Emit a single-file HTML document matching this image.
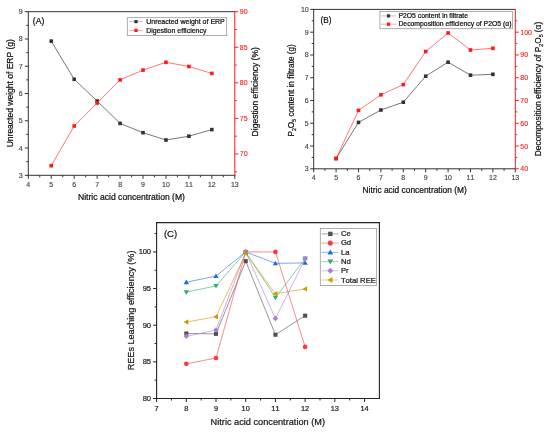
<!DOCTYPE html>
<html><head><meta charset="utf-8"><style>
html,body{margin:0;padding:0;background:#fff;}
body{width:550px;height:432px;overflow:hidden;}
svg{display:block;font-family:"Liberation Sans", sans-serif;will-change:transform;font-variant-ligatures:none;font-kerning:none;}
.pc text{stroke:#222;stroke-width:0.22px;}
.t{stroke:#111;stroke-width:0.22px;}
.tl{stroke:#444;stroke-width:0.15px;}
.tr{stroke:#ff1a1a;stroke-width:0.12px;}
</style></head><body>
<svg width="550" height="432" viewBox="0 0 550 432">
<rect width="550" height="432" fill="#fff"/>
<line x1="24.80" y1="175.30" x2="28.30" y2="175.30" stroke="#333" stroke-width="1" />
<text x="22.70" y="177.80" font-size="7" fill="#444" text-anchor="end" class="tl">3</text>
<line x1="24.80" y1="148.03" x2="28.30" y2="148.03" stroke="#333" stroke-width="1" />
<text x="22.70" y="150.53" font-size="7" fill="#444" text-anchor="end" class="tl">4</text>
<line x1="24.80" y1="120.77" x2="28.30" y2="120.77" stroke="#333" stroke-width="1" />
<text x="22.70" y="123.27" font-size="7" fill="#444" text-anchor="end" class="tl">5</text>
<line x1="24.80" y1="93.50" x2="28.30" y2="93.50" stroke="#333" stroke-width="1" />
<text x="22.70" y="96.00" font-size="7" fill="#444" text-anchor="end" class="tl">6</text>
<line x1="24.80" y1="66.23" x2="28.30" y2="66.23" stroke="#333" stroke-width="1" />
<text x="22.70" y="68.73" font-size="7" fill="#444" text-anchor="end" class="tl">7</text>
<line x1="24.80" y1="38.97" x2="28.30" y2="38.97" stroke="#333" stroke-width="1" />
<text x="22.70" y="41.47" font-size="7" fill="#444" text-anchor="end" class="tl">8</text>
<line x1="24.80" y1="11.70" x2="28.30" y2="11.70" stroke="#333" stroke-width="1" />
<text x="22.70" y="14.20" font-size="7" fill="#444" text-anchor="end" class="tl">9</text>
<line x1="26.30" y1="161.67" x2="28.30" y2="161.67" stroke="#333" stroke-width="1" />
<line x1="26.30" y1="134.40" x2="28.30" y2="134.40" stroke="#333" stroke-width="1" />
<line x1="26.30" y1="107.13" x2="28.30" y2="107.13" stroke="#333" stroke-width="1" />
<line x1="26.30" y1="79.87" x2="28.30" y2="79.87" stroke="#333" stroke-width="1" />
<line x1="26.30" y1="52.60" x2="28.30" y2="52.60" stroke="#333" stroke-width="1" />
<line x1="26.30" y1="25.33" x2="28.30" y2="25.33" stroke="#333" stroke-width="1" />
<line x1="28.30" y1="175.30" x2="28.30" y2="178.80" stroke="#333" stroke-width="1" />
<text x="28.30" y="186.50" font-size="7" fill="#444" text-anchor="middle" class="tl">4</text>
<line x1="51.24" y1="175.30" x2="51.24" y2="178.80" stroke="#333" stroke-width="1" />
<text x="51.24" y="186.50" font-size="7" fill="#444" text-anchor="middle" class="tl">5</text>
<line x1="74.19" y1="175.30" x2="74.19" y2="178.80" stroke="#333" stroke-width="1" />
<text x="74.19" y="186.50" font-size="7" fill="#444" text-anchor="middle" class="tl">6</text>
<line x1="97.13" y1="175.30" x2="97.13" y2="178.80" stroke="#333" stroke-width="1" />
<text x="97.13" y="186.50" font-size="7" fill="#444" text-anchor="middle" class="tl">7</text>
<line x1="120.08" y1="175.30" x2="120.08" y2="178.80" stroke="#333" stroke-width="1" />
<text x="120.08" y="186.50" font-size="7" fill="#444" text-anchor="middle" class="tl">8</text>
<line x1="143.02" y1="175.30" x2="143.02" y2="178.80" stroke="#333" stroke-width="1" />
<text x="143.02" y="186.50" font-size="7" fill="#444" text-anchor="middle" class="tl">9</text>
<line x1="165.97" y1="175.30" x2="165.97" y2="178.80" stroke="#333" stroke-width="1" />
<text x="165.97" y="186.50" font-size="7" fill="#444" text-anchor="middle" class="tl">10</text>
<line x1="188.91" y1="175.30" x2="188.91" y2="178.80" stroke="#333" stroke-width="1" />
<text x="188.91" y="186.50" font-size="7" fill="#444" text-anchor="middle" class="tl">11</text>
<line x1="211.86" y1="175.30" x2="211.86" y2="178.80" stroke="#333" stroke-width="1" />
<text x="211.86" y="186.50" font-size="7" fill="#444" text-anchor="middle" class="tl">12</text>
<line x1="234.80" y1="175.30" x2="234.80" y2="178.80" stroke="#333" stroke-width="1" />
<text x="234.80" y="186.50" font-size="7" fill="#444" text-anchor="middle" class="tl">13</text>
<line x1="39.77" y1="175.30" x2="39.77" y2="177.30" stroke="#333" stroke-width="1" />
<line x1="62.72" y1="175.30" x2="62.72" y2="177.30" stroke="#333" stroke-width="1" />
<line x1="85.66" y1="175.30" x2="85.66" y2="177.30" stroke="#333" stroke-width="1" />
<line x1="108.61" y1="175.30" x2="108.61" y2="177.30" stroke="#333" stroke-width="1" />
<line x1="131.55" y1="175.30" x2="131.55" y2="177.30" stroke="#333" stroke-width="1" />
<line x1="154.49" y1="175.30" x2="154.49" y2="177.30" stroke="#333" stroke-width="1" />
<line x1="177.44" y1="175.30" x2="177.44" y2="177.30" stroke="#333" stroke-width="1" />
<line x1="200.38" y1="175.30" x2="200.38" y2="177.30" stroke="#333" stroke-width="1" />
<line x1="223.33" y1="175.30" x2="223.33" y2="177.30" stroke="#333" stroke-width="1" />
<line x1="234.80" y1="153.96" x2="238.30" y2="153.96" stroke="#ff1a1a" stroke-width="1" />
<text x="239.80" y="156.46" font-size="7" fill="#ff1a1a" text-anchor="start" class="tr">70</text>
<line x1="234.80" y1="118.40" x2="238.30" y2="118.40" stroke="#ff1a1a" stroke-width="1" />
<text x="239.80" y="120.90" font-size="7" fill="#ff1a1a" text-anchor="start" class="tr">75</text>
<line x1="234.80" y1="82.83" x2="238.30" y2="82.83" stroke="#ff1a1a" stroke-width="1" />
<text x="239.80" y="85.33" font-size="7" fill="#ff1a1a" text-anchor="start" class="tr">80</text>
<line x1="234.80" y1="47.27" x2="238.30" y2="47.27" stroke="#ff1a1a" stroke-width="1" />
<text x="239.80" y="49.77" font-size="7" fill="#ff1a1a" text-anchor="start" class="tr">85</text>
<line x1="234.80" y1="11.70" x2="238.30" y2="11.70" stroke="#ff1a1a" stroke-width="1" />
<text x="239.80" y="14.20" font-size="7" fill="#ff1a1a" text-anchor="start" class="tr">90</text>
<line x1="234.80" y1="171.74" x2="236.80" y2="171.74" stroke="#ff1a1a" stroke-width="1" />
<line x1="234.80" y1="136.18" x2="236.80" y2="136.18" stroke="#ff1a1a" stroke-width="1" />
<line x1="234.80" y1="100.61" x2="236.80" y2="100.61" stroke="#ff1a1a" stroke-width="1" />
<line x1="234.80" y1="65.05" x2="236.80" y2="65.05" stroke="#ff1a1a" stroke-width="1" />
<line x1="234.80" y1="29.48" x2="236.80" y2="29.48" stroke="#ff1a1a" stroke-width="1" />
<line x1="28.30" y1="11.70" x2="234.80" y2="11.70" stroke="#333" stroke-width="1" />
<line x1="28.30" y1="11.20" x2="28.30" y2="175.80" stroke="#333" stroke-width="1" />
<line x1="27.80" y1="175.30" x2="235.30" y2="175.30" stroke="#333" stroke-width="1" />
<line x1="234.80" y1="11.20" x2="234.80" y2="175.80" stroke="#ff1a1a" stroke-width="1" />
<polyline points="51.24,41.10 74.19,79.30 97.13,101.00 120.08,123.40 143.02,132.70 165.97,140.00 188.91,136.20 211.86,129.60" fill="none" stroke="#555" stroke-width="0.8" stroke-opacity="1" stroke-linejoin="round"/>
<rect x="49.44" y="39.30" width="3.60" height="3.60" fill="#333"/>
<rect x="72.39" y="77.50" width="3.60" height="3.60" fill="#333"/>
<rect x="95.33" y="99.20" width="3.60" height="3.60" fill="#333"/>
<rect x="118.28" y="121.60" width="3.60" height="3.60" fill="#333"/>
<rect x="141.22" y="130.90" width="3.60" height="3.60" fill="#333"/>
<rect x="164.17" y="138.20" width="3.60" height="3.60" fill="#333"/>
<rect x="187.11" y="134.40" width="3.60" height="3.60" fill="#333"/>
<rect x="210.06" y="127.80" width="3.60" height="3.60" fill="#333"/>
<polyline points="51.24,165.70 74.19,126.00 97.13,103.00 120.08,79.90 143.02,70.10 165.97,62.30 188.91,66.50 211.86,73.40" fill="none" stroke="#ff1a1a" stroke-width="0.8" stroke-opacity="0.75" stroke-linejoin="round"/>
<rect x="49.44" y="163.90" width="3.60" height="3.60" fill="#ff1a1a"/>
<rect x="72.39" y="124.20" width="3.60" height="3.60" fill="#ff1a1a"/>
<rect x="95.33" y="101.20" width="3.60" height="3.60" fill="#ff1a1a"/>
<rect x="118.28" y="78.10" width="3.60" height="3.60" fill="#ff1a1a"/>
<rect x="141.22" y="68.30" width="3.60" height="3.60" fill="#ff1a1a"/>
<rect x="164.17" y="60.50" width="3.60" height="3.60" fill="#ff1a1a"/>
<rect x="187.11" y="64.70" width="3.60" height="3.60" fill="#ff1a1a"/>
<rect x="210.06" y="71.60" width="3.60" height="3.60" fill="#ff1a1a"/>
<rect x="127.3" y="17.7" width="99.4" height="17.9" fill="#fff" stroke="#999" stroke-width="0.8"/>
<line x1="129.00" y1="21.60" x2="143.00" y2="21.60" stroke="#999" stroke-width="0.8" stroke-opacity="0.7"/>
<rect x="134.40" y="20.00" width="3.20" height="3.20" fill="#333"/>
<line x1="129.00" y1="30.40" x2="143.00" y2="30.40" stroke="#ff1a1a" stroke-width="0.7" stroke-opacity="0.55"/>
<rect x="134.40" y="28.80" width="3.20" height="3.20" fill="#ff1a1a"/>
<text x="146.20" y="24.10" font-size="7" fill="#111" text-anchor="start" class="t">Unreacted weight of ERP</text>
<text x="146.20" y="32.90" font-size="7" fill="#111" text-anchor="start" class="t">Digestion efficiency</text>
<text x="32.80" y="24.00" font-size="8.6" fill="#111" text-anchor="start" class="t">(A)</text>
<text x="78.00" y="199.80" font-size="8.6" fill="#111" text-anchor="start" class="t">Nitric acid concentration (M)</text>
<text x="13.40" y="147.30" font-size="8.5" fill="#111" text-anchor="start" transform="rotate(-90 13.40 147.30)" class="t">Unreacted weight of ERP (g)</text>
<text x="258.20" y="136.40" font-size="8.55" fill="#111" text-anchor="start" transform="rotate(-90 258.20 136.40)" class="t">Digestion efficiency (%)</text>
<line x1="310.20" y1="168.80" x2="313.70" y2="168.80" stroke="#333" stroke-width="1" />
<text x="308.70" y="171.30" font-size="7" fill="#444" text-anchor="end" class="tl">3</text>
<line x1="310.20" y1="146.03" x2="313.70" y2="146.03" stroke="#333" stroke-width="1" />
<text x="308.70" y="148.53" font-size="7" fill="#444" text-anchor="end" class="tl">4</text>
<line x1="310.20" y1="123.26" x2="313.70" y2="123.26" stroke="#333" stroke-width="1" />
<text x="308.70" y="125.76" font-size="7" fill="#444" text-anchor="end" class="tl">5</text>
<line x1="310.20" y1="100.49" x2="313.70" y2="100.49" stroke="#333" stroke-width="1" />
<text x="308.70" y="102.99" font-size="7" fill="#444" text-anchor="end" class="tl">6</text>
<line x1="310.20" y1="77.71" x2="313.70" y2="77.71" stroke="#333" stroke-width="1" />
<text x="308.70" y="80.21" font-size="7" fill="#444" text-anchor="end" class="tl">7</text>
<line x1="310.20" y1="54.94" x2="313.70" y2="54.94" stroke="#333" stroke-width="1" />
<text x="308.70" y="57.44" font-size="7" fill="#444" text-anchor="end" class="tl">8</text>
<line x1="310.20" y1="32.17" x2="313.70" y2="32.17" stroke="#333" stroke-width="1" />
<text x="308.70" y="34.67" font-size="7" fill="#444" text-anchor="end" class="tl">9</text>
<line x1="310.20" y1="9.40" x2="313.70" y2="9.40" stroke="#333" stroke-width="1" />
<text x="308.70" y="11.90" font-size="7" fill="#444" text-anchor="end" class="tl">10</text>
<line x1="311.70" y1="157.41" x2="313.70" y2="157.41" stroke="#333" stroke-width="1" />
<line x1="311.70" y1="134.64" x2="313.70" y2="134.64" stroke="#333" stroke-width="1" />
<line x1="311.70" y1="111.87" x2="313.70" y2="111.87" stroke="#333" stroke-width="1" />
<line x1="311.70" y1="89.10" x2="313.70" y2="89.10" stroke="#333" stroke-width="1" />
<line x1="311.70" y1="66.33" x2="313.70" y2="66.33" stroke="#333" stroke-width="1" />
<line x1="311.70" y1="43.56" x2="313.70" y2="43.56" stroke="#333" stroke-width="1" />
<line x1="311.70" y1="20.79" x2="313.70" y2="20.79" stroke="#333" stroke-width="1" />
<line x1="313.70" y1="168.80" x2="313.70" y2="172.30" stroke="#333" stroke-width="1" />
<text x="313.70" y="180.00" font-size="7" fill="#444" text-anchor="middle" class="tl">4</text>
<line x1="336.10" y1="168.80" x2="336.10" y2="172.30" stroke="#333" stroke-width="1" />
<text x="336.10" y="180.00" font-size="7" fill="#444" text-anchor="middle" class="tl">5</text>
<line x1="358.50" y1="168.80" x2="358.50" y2="172.30" stroke="#333" stroke-width="1" />
<text x="358.50" y="180.00" font-size="7" fill="#444" text-anchor="middle" class="tl">6</text>
<line x1="380.90" y1="168.80" x2="380.90" y2="172.30" stroke="#333" stroke-width="1" />
<text x="380.90" y="180.00" font-size="7" fill="#444" text-anchor="middle" class="tl">7</text>
<line x1="403.30" y1="168.80" x2="403.30" y2="172.30" stroke="#333" stroke-width="1" />
<text x="403.30" y="180.00" font-size="7" fill="#444" text-anchor="middle" class="tl">8</text>
<line x1="425.70" y1="168.80" x2="425.70" y2="172.30" stroke="#333" stroke-width="1" />
<text x="425.70" y="180.00" font-size="7" fill="#444" text-anchor="middle" class="tl">9</text>
<line x1="448.10" y1="168.80" x2="448.10" y2="172.30" stroke="#333" stroke-width="1" />
<text x="448.10" y="180.00" font-size="7" fill="#444" text-anchor="middle" class="tl">10</text>
<line x1="470.50" y1="168.80" x2="470.50" y2="172.30" stroke="#333" stroke-width="1" />
<text x="470.50" y="180.00" font-size="7" fill="#444" text-anchor="middle" class="tl">11</text>
<line x1="492.90" y1="168.80" x2="492.90" y2="172.30" stroke="#333" stroke-width="1" />
<text x="492.90" y="180.00" font-size="7" fill="#444" text-anchor="middle" class="tl">12</text>
<line x1="515.30" y1="168.80" x2="515.30" y2="172.30" stroke="#333" stroke-width="1" />
<text x="515.30" y="180.00" font-size="7" fill="#444" text-anchor="middle" class="tl">13</text>
<line x1="324.90" y1="168.80" x2="324.90" y2="170.80" stroke="#333" stroke-width="1" />
<line x1="347.30" y1="168.80" x2="347.30" y2="170.80" stroke="#333" stroke-width="1" />
<line x1="369.70" y1="168.80" x2="369.70" y2="170.80" stroke="#333" stroke-width="1" />
<line x1="392.10" y1="168.80" x2="392.10" y2="170.80" stroke="#333" stroke-width="1" />
<line x1="414.50" y1="168.80" x2="414.50" y2="170.80" stroke="#333" stroke-width="1" />
<line x1="436.90" y1="168.80" x2="436.90" y2="170.80" stroke="#333" stroke-width="1" />
<line x1="459.30" y1="168.80" x2="459.30" y2="170.80" stroke="#333" stroke-width="1" />
<line x1="481.70" y1="168.80" x2="481.70" y2="170.80" stroke="#333" stroke-width="1" />
<line x1="504.10" y1="168.80" x2="504.10" y2="170.80" stroke="#333" stroke-width="1" />
<line x1="515.30" y1="168.80" x2="518.80" y2="168.80" stroke="#ff1a1a" stroke-width="1" />
<text x="520.30" y="171.30" font-size="7" fill="#ff1a1a" text-anchor="start" class="tr">40</text>
<line x1="515.30" y1="146.03" x2="518.80" y2="146.03" stroke="#ff1a1a" stroke-width="1" />
<text x="520.30" y="148.53" font-size="7" fill="#ff1a1a" text-anchor="start" class="tr">50</text>
<line x1="515.30" y1="123.26" x2="518.80" y2="123.26" stroke="#ff1a1a" stroke-width="1" />
<text x="520.30" y="125.76" font-size="7" fill="#ff1a1a" text-anchor="start" class="tr">60</text>
<line x1="515.30" y1="100.49" x2="518.80" y2="100.49" stroke="#ff1a1a" stroke-width="1" />
<text x="520.30" y="102.99" font-size="7" fill="#ff1a1a" text-anchor="start" class="tr">70</text>
<line x1="515.30" y1="77.71" x2="518.80" y2="77.71" stroke="#ff1a1a" stroke-width="1" />
<text x="520.30" y="80.21" font-size="7" fill="#ff1a1a" text-anchor="start" class="tr">80</text>
<line x1="515.30" y1="54.94" x2="518.80" y2="54.94" stroke="#ff1a1a" stroke-width="1" />
<text x="520.30" y="57.44" font-size="7" fill="#ff1a1a" text-anchor="start" class="tr">90</text>
<line x1="515.30" y1="32.17" x2="518.80" y2="32.17" stroke="#ff1a1a" stroke-width="1" />
<text x="520.30" y="34.67" font-size="7" fill="#ff1a1a" text-anchor="start" class="tr">100</text>
<line x1="515.30" y1="157.41" x2="517.30" y2="157.41" stroke="#ff1a1a" stroke-width="1" />
<line x1="515.30" y1="134.64" x2="517.30" y2="134.64" stroke="#ff1a1a" stroke-width="1" />
<line x1="515.30" y1="111.87" x2="517.30" y2="111.87" stroke="#ff1a1a" stroke-width="1" />
<line x1="515.30" y1="89.10" x2="517.30" y2="89.10" stroke="#ff1a1a" stroke-width="1" />
<line x1="515.30" y1="66.33" x2="517.30" y2="66.33" stroke="#ff1a1a" stroke-width="1" />
<line x1="515.30" y1="43.56" x2="517.30" y2="43.56" stroke="#ff1a1a" stroke-width="1" />
<line x1="515.30" y1="20.79" x2="517.30" y2="20.79" stroke="#ff1a1a" stroke-width="1" />
<line x1="313.70" y1="9.40" x2="515.30" y2="9.40" stroke="#333" stroke-width="1" />
<line x1="313.70" y1="8.90" x2="313.70" y2="169.30" stroke="#333" stroke-width="1" />
<line x1="313.20" y1="168.80" x2="515.80" y2="168.80" stroke="#333" stroke-width="1" />
<line x1="515.30" y1="8.90" x2="515.30" y2="169.30" stroke="#ff1a1a" stroke-width="1" />
<polyline points="336.10,158.50 358.50,122.40 380.90,110.00 403.30,102.20 425.70,76.20 448.10,62.20 470.50,75.20 492.90,74.30" fill="none" stroke="#555" stroke-width="0.8" stroke-opacity="1" stroke-linejoin="round"/>
<rect x="334.30" y="156.70" width="3.60" height="3.60" fill="#333"/>
<rect x="356.70" y="120.60" width="3.60" height="3.60" fill="#333"/>
<rect x="379.10" y="108.20" width="3.60" height="3.60" fill="#333"/>
<rect x="401.50" y="100.40" width="3.60" height="3.60" fill="#333"/>
<rect x="423.90" y="74.40" width="3.60" height="3.60" fill="#333"/>
<rect x="446.30" y="60.40" width="3.60" height="3.60" fill="#333"/>
<rect x="468.70" y="73.40" width="3.60" height="3.60" fill="#333"/>
<rect x="491.10" y="72.50" width="3.60" height="3.60" fill="#333"/>
<polyline points="336.10,158.50 358.50,110.40 380.90,94.80 403.30,84.60 425.70,51.50 448.10,33.00 470.50,50.00 492.90,48.30" fill="none" stroke="#ff1a1a" stroke-width="0.8" stroke-opacity="0.75" stroke-linejoin="round"/>
<rect x="334.30" y="156.70" width="3.60" height="3.60" fill="#ff1a1a"/>
<rect x="356.70" y="108.60" width="3.60" height="3.60" fill="#ff1a1a"/>
<rect x="379.10" y="93.00" width="3.60" height="3.60" fill="#ff1a1a"/>
<rect x="401.50" y="82.80" width="3.60" height="3.60" fill="#ff1a1a"/>
<rect x="423.90" y="49.70" width="3.60" height="3.60" fill="#ff1a1a"/>
<rect x="446.30" y="31.20" width="3.60" height="3.60" fill="#ff1a1a"/>
<rect x="468.70" y="48.20" width="3.60" height="3.60" fill="#ff1a1a"/>
<rect x="491.10" y="46.50" width="3.60" height="3.60" fill="#ff1a1a"/>
<rect x="379.9" y="11.5" width="132.6" height="17.2" fill="#fff" stroke="#999" stroke-width="0.8"/>
<line x1="381.00" y1="15.90" x2="396.00" y2="15.90" stroke="#999" stroke-width="0.8" stroke-opacity="0.7"/>
<rect x="386.90" y="14.30" width="3.20" height="3.20" fill="#333"/>
<line x1="381.00" y1="24.20" x2="396.00" y2="24.20" stroke="#ff1a1a" stroke-width="0.7" stroke-opacity="0.55"/>
<rect x="386.85" y="22.55" width="3.30" height="3.30" fill="#ff1a1a"/>
<text x="398.40" y="18.40" font-size="6.85" fill="#111" text-anchor="start" class="t">P2O5 content in filtrate</text>
<text x="398.40" y="26.40" font-size="6.85" fill="#111" text-anchor="start" class="t">Decomposition efficiency of P2O5 (α)</text>
<text x="320.50" y="23.30" font-size="8.2" fill="#111" text-anchor="start" class="t">(B)</text>
<text x="362.50" y="192.60" font-size="8.4" fill="#111" text-anchor="start" class="t">Nitric acid concentration (M)</text>
<text class="t" x="293.6" y="136.5" font-size="8.2" fill="#111" transform="rotate(-90 293.6 136.5)">P<tspan font-size="5.2" dy="2.4">2</tspan><tspan dy="-2.4">O</tspan><tspan font-size="5.2" dy="2.4">5</tspan><tspan dy="-2.4"> content in filtrate (g)</tspan></text>
<text class="t" x="540.9" y="156.2" font-size="8.35" fill="#111" transform="rotate(-90 540.9 156.2)">Decomposition efficiency of P<tspan font-size="5.2" dy="2.4">2</tspan><tspan dy="-2.4">O</tspan><tspan font-size="5.2" dy="2.4">5</tspan><tspan dy="-2.4"> (α)</tspan></text>
<g class="pc">
<line x1="153.10" y1="398.50" x2="156.60" y2="398.50" stroke="#222" stroke-width="1" />
<text x="150.60" y="400.90" font-size="7.6" fill="#222" text-anchor="end" letter-spacing="-0.3">80</text>
<line x1="153.10" y1="361.85" x2="156.60" y2="361.85" stroke="#222" stroke-width="1" />
<text x="150.60" y="364.25" font-size="7.6" fill="#222" text-anchor="end" letter-spacing="-0.3">85</text>
<line x1="153.10" y1="325.21" x2="156.60" y2="325.21" stroke="#222" stroke-width="1" />
<text x="150.60" y="327.61" font-size="7.6" fill="#222" text-anchor="end" letter-spacing="-0.3">90</text>
<line x1="153.10" y1="288.56" x2="156.60" y2="288.56" stroke="#222" stroke-width="1" />
<text x="150.60" y="290.96" font-size="7.6" fill="#222" text-anchor="end" letter-spacing="-0.3">95</text>
<line x1="153.10" y1="251.92" x2="156.60" y2="251.92" stroke="#222" stroke-width="1" />
<text x="150.60" y="254.32" font-size="7.6" fill="#222" text-anchor="end" letter-spacing="-0.3">100</text>
<line x1="154.60" y1="380.18" x2="156.60" y2="380.18" stroke="#222" stroke-width="1" />
<line x1="154.60" y1="343.53" x2="156.60" y2="343.53" stroke="#222" stroke-width="1" />
<line x1="154.60" y1="306.89" x2="156.60" y2="306.89" stroke="#222" stroke-width="1" />
<line x1="154.60" y1="270.24" x2="156.60" y2="270.24" stroke="#222" stroke-width="1" />
<line x1="154.60" y1="233.59" x2="156.60" y2="233.59" stroke="#222" stroke-width="1" />
<line x1="156.60" y1="398.50" x2="156.60" y2="402.00" stroke="#222" stroke-width="1" />
<text x="156.60" y="410.50" font-size="7.4" fill="#222" text-anchor="middle" >7</text>
<line x1="186.31" y1="398.50" x2="186.31" y2="402.00" stroke="#222" stroke-width="1" />
<text x="186.31" y="410.50" font-size="7.4" fill="#222" text-anchor="middle" >8</text>
<line x1="216.01" y1="398.50" x2="216.01" y2="402.00" stroke="#222" stroke-width="1" />
<text x="216.01" y="410.50" font-size="7.4" fill="#222" text-anchor="middle" >9</text>
<line x1="245.72" y1="398.50" x2="245.72" y2="402.00" stroke="#222" stroke-width="1" />
<text x="245.72" y="410.50" font-size="7.4" fill="#222" text-anchor="middle" >10</text>
<line x1="275.43" y1="398.50" x2="275.43" y2="402.00" stroke="#222" stroke-width="1" />
<text x="275.43" y="410.50" font-size="7.4" fill="#222" text-anchor="middle" >11</text>
<line x1="305.13" y1="398.50" x2="305.13" y2="402.00" stroke="#222" stroke-width="1" />
<text x="305.13" y="410.50" font-size="7.4" fill="#222" text-anchor="middle" >12</text>
<line x1="334.84" y1="398.50" x2="334.84" y2="402.00" stroke="#222" stroke-width="1" />
<text x="334.84" y="410.50" font-size="7.4" fill="#222" text-anchor="middle" >13</text>
<line x1="364.55" y1="398.50" x2="364.55" y2="402.00" stroke="#222" stroke-width="1" />
<text x="364.55" y="410.50" font-size="7.4" fill="#222" text-anchor="middle" >14</text>
<line x1="171.45" y1="398.50" x2="171.45" y2="400.50" stroke="#222" stroke-width="1" />
<line x1="201.16" y1="398.50" x2="201.16" y2="400.50" stroke="#222" stroke-width="1" />
<line x1="230.87" y1="398.50" x2="230.87" y2="400.50" stroke="#222" stroke-width="1" />
<line x1="260.57" y1="398.50" x2="260.57" y2="400.50" stroke="#222" stroke-width="1" />
<line x1="290.28" y1="398.50" x2="290.28" y2="400.50" stroke="#222" stroke-width="1" />
<line x1="319.99" y1="398.50" x2="319.99" y2="400.50" stroke="#222" stroke-width="1" />
<line x1="349.69" y1="398.50" x2="349.69" y2="400.50" stroke="#222" stroke-width="1" />
<line x1="156.60" y1="222.60" x2="379.40" y2="222.60" stroke="#222" stroke-width="1.1" />
<line x1="156.60" y1="222.10" x2="156.60" y2="399.00" stroke="#222" stroke-width="1.1" />
<line x1="156.10" y1="398.50" x2="379.90" y2="398.50" stroke="#222" stroke-width="1.1" />
<line x1="379.40" y1="222.10" x2="379.40" y2="399.00" stroke="#222" stroke-width="1.1" />
<polyline points="186.31,333.49 216.01,333.86 245.72,261.15 275.43,334.74 305.13,315.68" fill="none" stroke="#515151" stroke-width="0.8" stroke-opacity="0.75" stroke-linejoin="round"/>
<rect x="184.26" y="331.44" width="4.10" height="4.10" fill="#515151"/>
<rect x="213.96" y="331.81" width="4.10" height="4.10" fill="#515151"/>
<rect x="243.67" y="259.10" width="4.10" height="4.10" fill="#515151"/>
<rect x="273.38" y="332.69" width="4.10" height="4.10" fill="#515151"/>
<rect x="303.08" y="313.63" width="4.10" height="4.10" fill="#515151"/>
<polyline points="186.31,363.83 216.01,358.04 245.72,251.92 275.43,251.92 305.13,346.90" fill="none" stroke="#F14040" stroke-width="0.8" stroke-opacity="0.75" stroke-linejoin="round"/>
<circle cx="186.31" cy="363.83" r="2.35" fill="#F14040"/>
<circle cx="216.01" cy="358.04" r="2.35" fill="#F14040"/>
<circle cx="245.72" cy="251.92" r="2.35" fill="#F14040"/>
<circle cx="275.43" cy="251.92" r="2.35" fill="#F14040"/>
<circle cx="305.13" cy="346.90" r="2.35" fill="#F14040"/>
<polyline points="186.31,282.19 216.01,276.10 245.72,251.92 275.43,263.35 305.13,262.91" fill="none" stroke="#1A6FDF" stroke-width="0.8" stroke-opacity="0.75" stroke-linejoin="round"/>
<polygon points="186.31,279.49 189.00,284.15 183.61,284.15" fill="#1A6FDF"/>
<polygon points="216.01,273.41 218.71,278.06 213.32,278.06" fill="#1A6FDF"/>
<polygon points="245.72,249.22 248.41,253.88 243.02,253.88" fill="#1A6FDF"/>
<polygon points="275.43,260.66 278.12,265.31 272.73,265.31" fill="#1A6FDF"/>
<polygon points="305.13,260.22 307.83,264.87 302.44,264.87" fill="#1A6FDF"/>
<polyline points="186.31,292.23 216.01,285.85 245.72,251.92 275.43,297.65 305.13,258.51" fill="none" stroke="#37AD6B" stroke-width="0.8" stroke-opacity="0.75" stroke-linejoin="round"/>
<polygon points="186.31,294.92 189.00,290.27 183.61,290.27" fill="#37AD6B"/>
<polygon points="216.01,288.55 218.71,283.89 213.32,283.89" fill="#37AD6B"/>
<polygon points="245.72,254.61 248.41,249.96 243.02,249.96" fill="#37AD6B"/>
<polygon points="275.43,300.35 278.12,295.69 272.73,295.69" fill="#37AD6B"/>
<polygon points="305.13,261.21 307.83,256.55 302.44,256.55" fill="#37AD6B"/>
<polyline points="186.31,336.35 216.01,330.05 245.72,251.92 275.43,318.61 305.13,258.88" fill="none" stroke="#B177DE" stroke-width="0.8" stroke-opacity="0.75" stroke-linejoin="round"/>
<polygon points="186.31,333.59 189.07,336.35 186.31,339.11 183.55,336.35" fill="#B177DE"/>
<polygon points="216.01,327.29 218.77,330.05 216.01,332.81 213.25,330.05" fill="#B177DE"/>
<polygon points="245.72,249.16 248.48,251.92 245.72,254.68 242.96,251.92" fill="#B177DE"/>
<polygon points="275.43,315.85 278.19,318.61 275.43,321.37 272.67,318.61" fill="#B177DE"/>
<polygon points="305.13,256.12 307.89,258.88 305.13,261.64 302.37,258.88" fill="#B177DE"/>
<polyline points="186.31,322.06 216.01,316.71 245.72,253.38 275.43,293.69 305.13,288.93" fill="none" stroke="#CC9900" stroke-width="0.8" stroke-opacity="0.75" stroke-linejoin="round"/>
<polygon points="183.61,322.06 188.27,319.36 188.27,324.75" fill="#CC9900"/>
<polygon points="213.32,316.71 217.97,314.01 217.97,319.40" fill="#CC9900"/>
<polygon points="243.02,253.38 247.68,250.69 247.68,256.08" fill="#CC9900"/>
<polygon points="272.73,293.69 277.39,291.00 277.39,296.39" fill="#CC9900"/>
<polygon points="302.44,288.93 307.09,286.23 307.09,291.62" fill="#CC9900"/>
<rect x="320.3" y="228.4" width="56.2" height="57.2" fill="#fff" stroke="#999" stroke-width="0.8"/>
<line x1="321.5" y1="233.90" x2="338.5" y2="233.90" stroke="#515151" stroke-width="0.9" stroke-opacity="0.55"/>
<rect x="328.09" y="231.69" width="4.43" height="4.43" fill="#515151"/>
<text x="340.90" y="235.90" font-size="7.7" fill="#111" text-anchor="start" >Ce</text>
<line x1="321.5" y1="243.12" x2="338.5" y2="243.12" stroke="#F14040" stroke-width="0.9" stroke-opacity="0.55"/>
<circle cx="330.30" cy="243.12" r="2.54" fill="#F14040"/>
<text x="340.90" y="245.22" font-size="7.7" fill="#111" text-anchor="start" >Gd</text>
<line x1="321.5" y1="252.34" x2="338.5" y2="252.34" stroke="#1A6FDF" stroke-width="0.9" stroke-opacity="0.55"/>
<polygon points="330.30,249.43 333.21,254.46 327.39,254.46" fill="#1A6FDF"/>
<text x="340.90" y="254.54" font-size="7.7" fill="#111" text-anchor="start" >La</text>
<line x1="321.5" y1="261.56" x2="338.5" y2="261.56" stroke="#37AD6B" stroke-width="0.9" stroke-opacity="0.55"/>
<polygon points="330.30,264.47 333.21,259.44 327.39,259.44" fill="#37AD6B"/>
<text x="340.90" y="263.86" font-size="7.7" fill="#111" text-anchor="start" >Nd</text>
<line x1="321.5" y1="270.78" x2="338.5" y2="270.78" stroke="#B177DE" stroke-width="0.9" stroke-opacity="0.55"/>
<polygon points="330.30,267.80 333.28,270.78 330.30,273.76 327.32,270.78" fill="#B177DE"/>
<text x="340.90" y="273.18" font-size="7.7" fill="#111" text-anchor="start" >Pr</text>
<line x1="321.5" y1="280.00" x2="338.5" y2="280.00" stroke="#CC9900" stroke-width="0.9" stroke-opacity="0.55"/>
<polygon points="327.39,280.00 332.42,277.09 332.42,282.91" fill="#CC9900"/>
<text x="340.90" y="282.50" font-size="7.7" fill="#111" text-anchor="start" >Total REE</text>
<text x="163.90" y="237.30" font-size="9.6" fill="#111" text-anchor="start" >(C)</text>
<text x="210.60" y="424.70" font-size="9.2" fill="#111" text-anchor="start" >Nitric acid concentration (M)</text>
<text x="134.50" y="370.30" font-size="9.1" fill="#111" text-anchor="start" transform="rotate(-90 134.50 370.30)" >REEs Leaching efficiency (%)</text>
</g>
</svg>
</body></html>
